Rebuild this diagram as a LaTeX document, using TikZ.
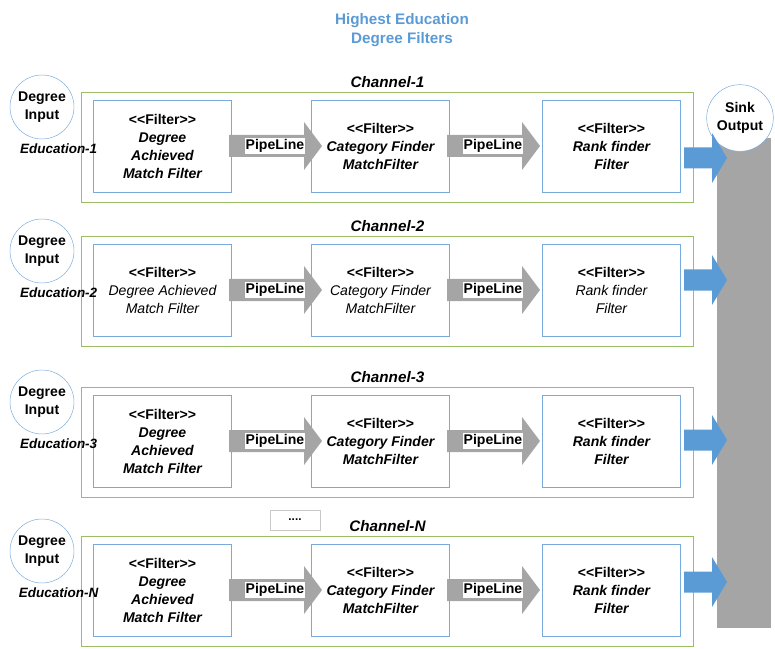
\documentclass[tikz,border=0pt]{standalone}
\usepackage{fontspec}
\setmainfont{Liberation Sans}
\usetikzlibrary{positioning}
\definecolor{chgreen}{RGB}{155,190,100}
\definecolor{fblue}{RGB}{120,170,220}
\definecolor{sblue}{RGB}{91,155,213}
\definecolor{pgray}{RGB}{165,165,165}
\tikzset{
  channel/.style={draw=chgreen,thick,minimum width=18.36cm,minimum height=3.3cm,anchor=north west},
  filter/.style={draw=fblue,fill=white,thick,minimum width=4.14cm,minimum height=2.76cm,align=center,anchor=north west},
  pipetext/.style={fill=white,inner sep=1pt,font=\bfseries\fontsize{12}{14}\selectfont},
  port/.style={circle,draw=fblue,fill=white,minimum size=1.92cm,inner sep=0pt,align=center,font=\bfseries\fontsize{12}{15}\selectfont},
  title/.style={font=\bfseries\itshape\fontsize{13}{15}\selectfont},
  edu/.style={font=\bfseries\itshape\fontsize{11.5}{13}\selectfont},
}
% gray pipe arrow starting at a coordinate
\newcommand\pipearrow[1]{\fill[pgray] (#1) ++(0,-11) -- ++(75,0) -- ++(0,-13) -- ++(18,24) -- ++(-18,24) -- ++(0,-13) -- ++(-75,0) -- cycle;}
\newcommand\outarrow[1]{\fill[sblue] (#1) ++(0,-10.5) -- ++(28,0) -- ++(0,-14.5) -- ++(15,25) -- ++(-15,25) -- ++(0,-14.5) -- ++(-28,0) -- cycle;}
\newcommand\fl{{\upshape\bfseries <{}<Filter>{}>}}
\begin{document}
\begin{tikzpicture}[x=0.03cm,y=-0.03cm]
\useasboundingbox (0,0) rectangle (775,649);
\node[font=\bfseries\fontsize{13}{16}\selectfont,text=sblue,align=center] (head) at (402,30) {Highest Education\\Degree Filters};
% sink bar
\fill[pgray] (717,138) rectangle (771,628);
\node[port,minimum size=2cm] (sink) at (740,118) {Sink\\Output};
% channels
\foreach \i/\t/\o/\s/\d in {1/92/158/\bfseries/Degree\\Achieved,2/236/280/\mdseries/Degree Achieved,3/387/440/\bfseries/Degree\\Achieved,N/536/582/\bfseries/Degree\\Achieved}{
  \node[channel] (ch\i) at (81,\t) {};
  \node[title,above=0pt of ch\i.north] (t\i) {Channel-\i};
  \node[filter,font=\fontsize{12}{15.5}\selectfont\itshape\s] (fa\i) at (93,\t+8) {\fl\\\d\\Match Filter};
  \node[filter,font=\fontsize{12}{15.5}\selectfont\itshape\s] (fb\i) at (311,\t+8) {\fl\\Category Finder\\MatchFilter};
  \node[filter,font=\fontsize{12}{15.5}\selectfont\itshape\s] (fc\i) at (542,\t+8) {\fl\\Rank finder\\Filter};
  \coordinate (pa\i) at (229,\t+54);
  \coordinate (pb\i) at (447,\t+54);
  \pipearrow{pa\i}
  \pipearrow{pb\i}
  \node[pipetext] at ([xshift=1.38cm]pa\i) {PipeLine};
  \node[pipetext] at ([xshift=1.38cm]pb\i) {PipeLine};
  \coordinate (o\i) at (684,\o);
  \outarrow{o\i}
  \node[port] (in\i) at (42,\t+15) {Degree\\Input};
  \node[edu] (e\i) at ([xshift=0.5cm,yshift=-1.26cm]in\i) {Education-\i};
}
\node[draw=pgray!60,minimum width=1.5cm,minimum height=0.6cm,font=\bfseries] (dots) at (295,520) {....};
\end{tikzpicture}
\end{document}
